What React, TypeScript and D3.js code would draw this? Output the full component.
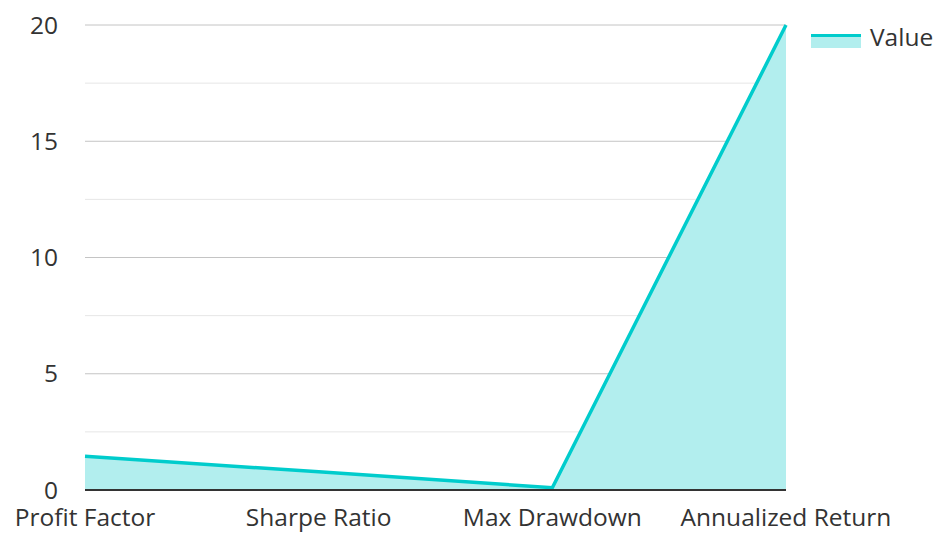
import React, { useEffect, useRef } from 'react';
import * as d3 from 'd3';

const categories = ['Profit Factor', 'Sharpe Ratio', 'Max Drawdown', 'Annualized Return'];
const values = [1.45, 0.78, 0.1, 20];
const majorTicks = [0, 5, 10, 15, 20];
const minorTicks = [2.5, 7.5, 12.5, 17.5];
const seriesName = 'Value';

const width = 935;
const height = 533;
const margin = { top: 25, right: 149, bottom: 43, left: 85 };
const LINE = '#00cccc';
const FILL = '#b2eeee';
const FONT = '"Open Sans", sans-serif';
const FS = 24.5;

export default function App() {
  const ref = useRef<SVGSVGElement>(null);

  useEffect(() => {
    const svg = d3.select(ref.current);
    svg.selectAll('*').remove();

    const x = d3.scalePoint<string>().domain(categories).range([margin.left, width - margin.right]);
    const y = d3.scaleLinear().domain([0, 20]).range([height - margin.bottom, margin.top]);

    // grid
    svg.append('g').selectAll('line').data(minorTicks).enter().append('line')
      .attr('x1', margin.left).attr('x2', width - margin.right)
      .attr('y1', d => y(d)).attr('y2', d => y(d))
      .attr('stroke', '#e6e6e6').attr('stroke-width', 1);
    svg.append('g').selectAll('line').data(majorTicks.filter(d => d > 0)).enter().append('line')
      .attr('x1', margin.left).attr('x2', width - margin.right)
      .attr('y1', d => y(d)).attr('y2', d => y(d))
      .attr('stroke', '#c4c4c4').attr('stroke-width', 1);

    const data = categories.map((c, i) => ({ c, v: values[i] }));

    const area = d3.area<{ c: string; v: number }>()
      .x(d => x(d.c)!).y0(y(0)).y1(d => y(d.v));
    const line = d3.line<{ c: string; v: number }>()
      .x(d => x(d.c)!).y(d => y(d.v));

    svg.append('path').datum(data).attr('d', area).attr('fill', FILL);
    svg.append('path').datum(data).attr('d', line)
      .attr('fill', 'none').attr('stroke', LINE).attr('stroke-width', 3.5);

    // baseline
    svg.append('line')
      .attr('x1', margin.left).attr('x2', width - margin.right)
      .attr('y1', y(0)).attr('y2', y(0))
      .attr('stroke', '#333333').attr('stroke-width', 2);

    // y labels
    svg.append('g').selectAll('text').data(majorTicks).enter().append('text')
      .attr('x', 58).attr('y', d => y(d)).attr('dy', '0.35em')
      .attr('text-anchor', 'end').attr('font-family', FONT).attr('font-size', FS)
      .attr('fill', '#333333').text(d => d);

    // x labels
    svg.append('g').selectAll('text').data(categories).enter().append('text')
      .attr('x', d => x(d)!).attr('y', 526)
      .attr('text-anchor', 'middle').attr('font-family', FONT).attr('font-size', FS)
      .attr('fill', '#333333').text(d => d);

    // legend
    const lg = svg.append('g').attr('transform', 'translate(811,34)');
    lg.append('rect').attr('x', 0).attr('y', 0).attr('width', 50).attr('height', 14).attr('fill', FILL);
    lg.append('line').attr('x1', 0).attr('x2', 50).attr('y1', 1.5).attr('y2', 1.5)
      .attr('stroke', LINE).attr('stroke-width', 3);
    lg.append('text').attr('x', 59).attr('y', 3).attr('dy', '0.35em')
      .attr('font-family', FONT).attr('font-size', FS).attr('fill', '#333333').text(seriesName);
  }, []);

  return (
    <svg ref={ref} width={width} height={height}
      style={{ position: 'absolute', left: 0, top: 0, background: '#fff' }} />
  );
}
